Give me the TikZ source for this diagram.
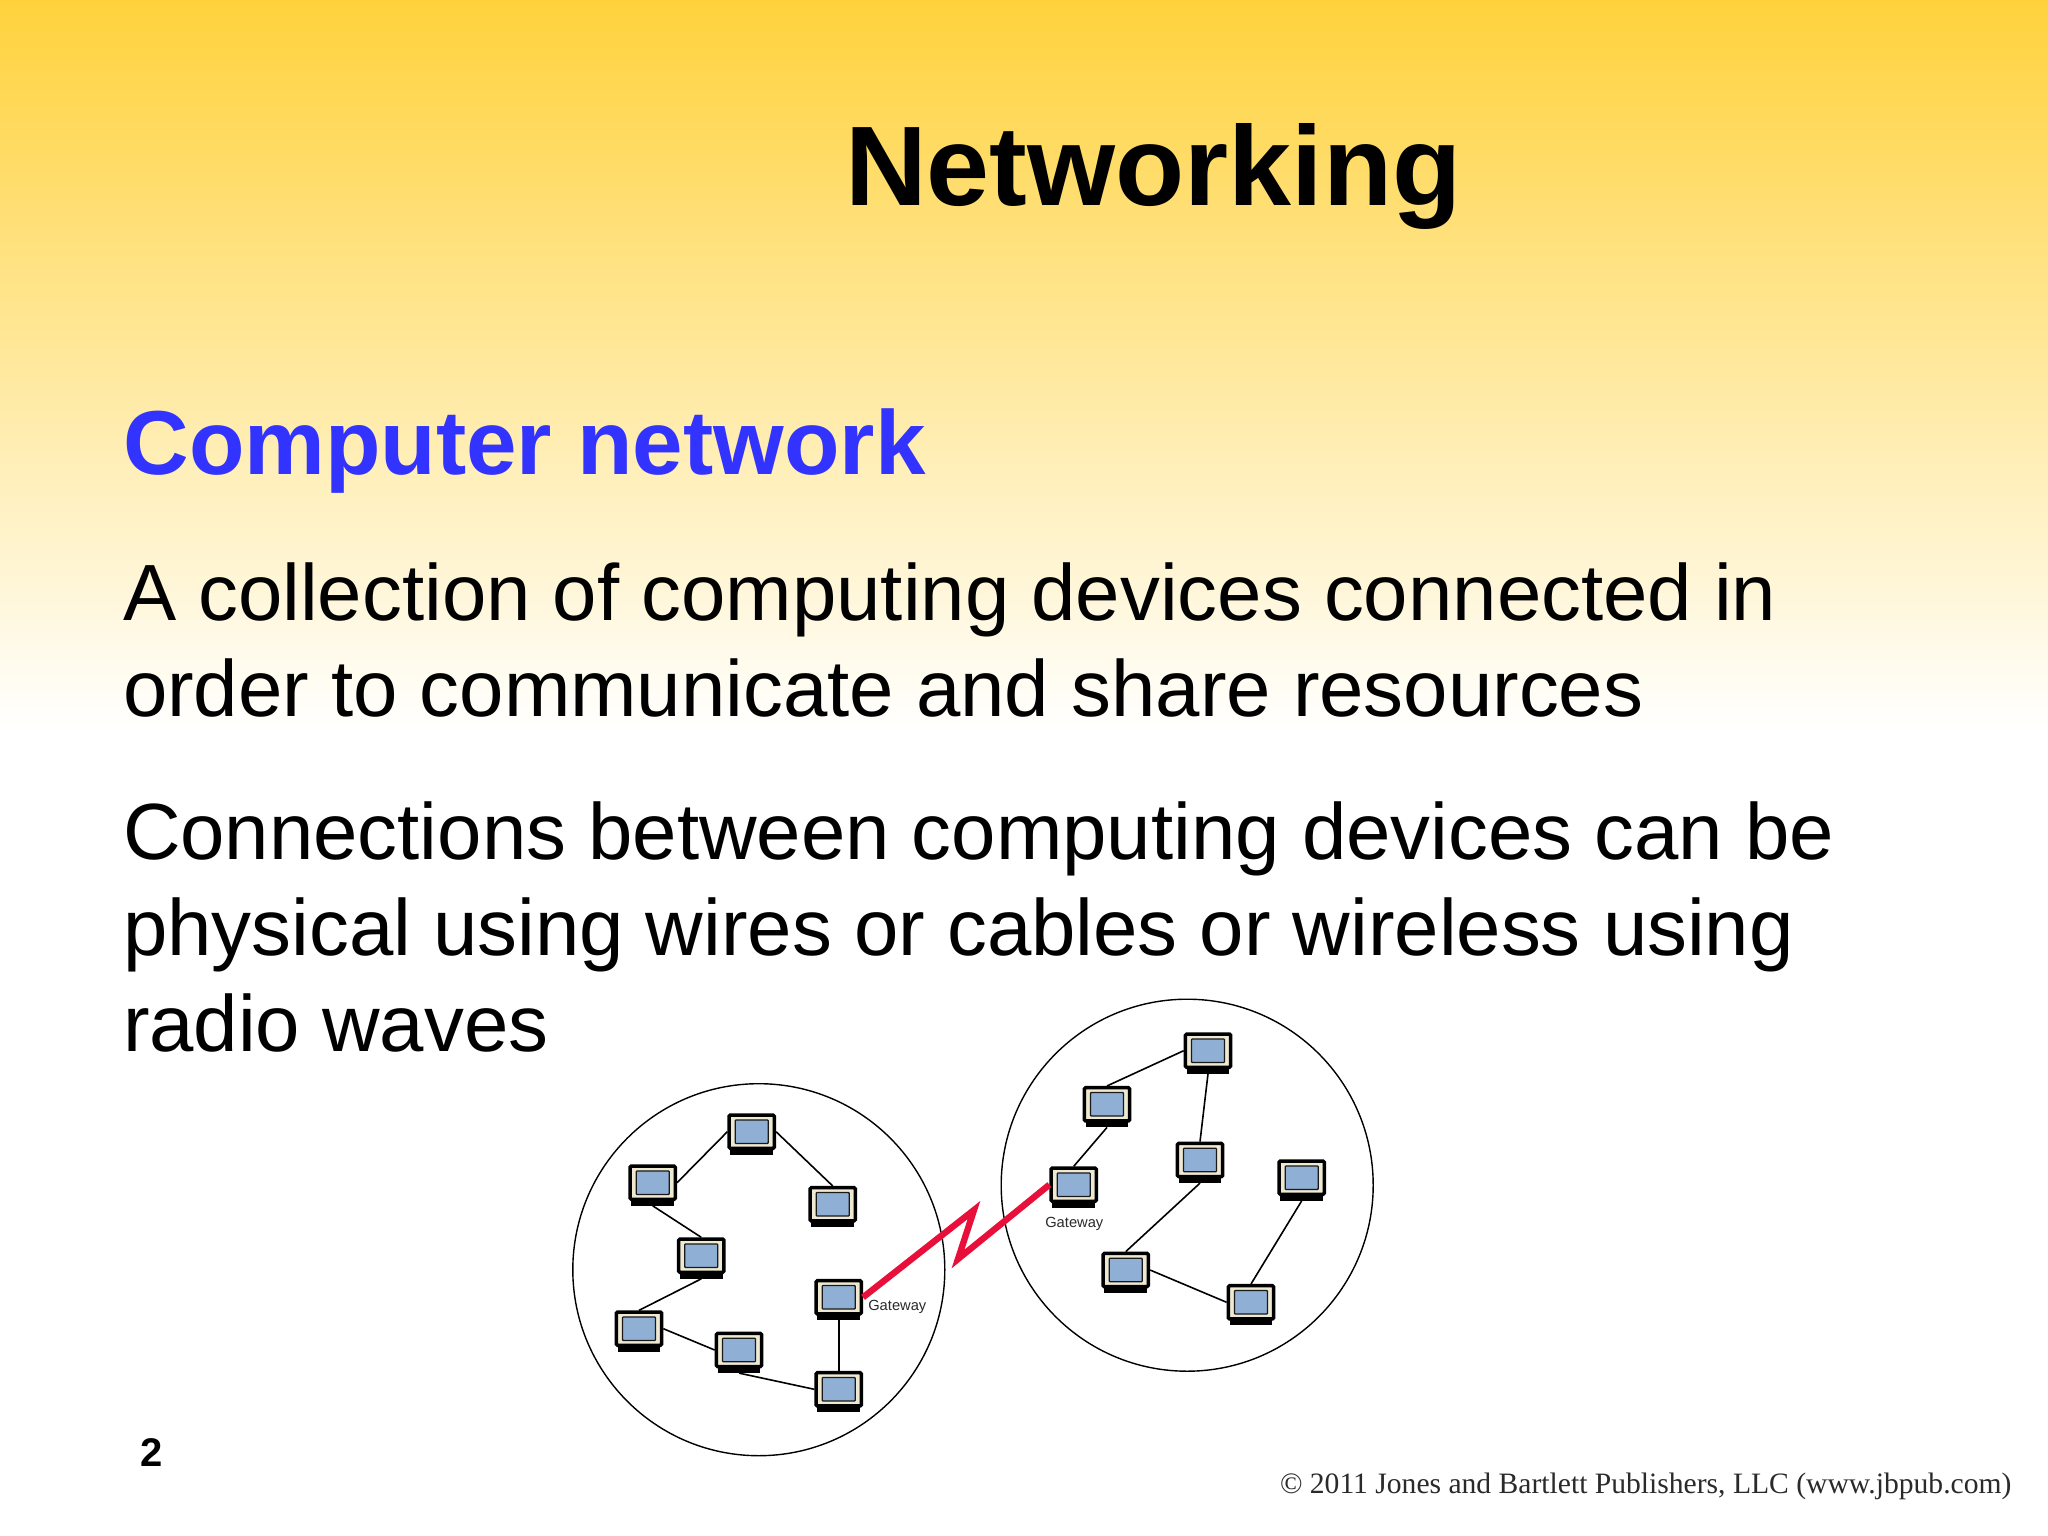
\documentclass[tikz,border=0pt]{standalone}
\usepackage{fontspec}
\setmainfont{Liberation Sans}
\newfontfamily\serifcr{Liberation Serif}
\definecolor{topyellow}{HTML}{FFD23C}
\definecolor{headblue}{HTML}{3333FF}
\definecolor{cream}{HTML}{EFE9D2}
\definecolor{screenblue}{HTML}{8FAFD4}
\definecolor{linkred}{HTML}{E8103A}
\definecolor{softtext}{HTML}{2A2A2A}
\tikzset{
  txt/.style={anchor=base west,inner sep=0pt,outer sep=0pt},
  titletxt/.style={txt,font=\fontsize{113.2}{113.2}\selectfont\bfseries},
  headtxt/.style={txt,font=\fontsize{90.8}{90.8}\selectfont\bfseries,text=headblue},
  bodytxt/.style={txt,font=\fontsize{79.75}{79.75}\selectfont},
  gatelabel/.style={inner sep=0pt,font=\fontsize{14.7}{14.7}\selectfont,text=softtext},
  monbody/.style={draw=black,line width=3.5pt,fill=cream,rounded corners=1.2pt,minimum width=45.2pt,minimum height=33.2pt,inner sep=0pt,outer sep=1.75pt},
  monscreen/.style={draw=black!90,line width=1.3pt,fill=screenblue,rounded corners=0.8pt,minimum width=33pt,minimum height=23.5pt,inner sep=0pt},
  monfoot/.style={fill=black,minimum width=42.5pt,minimum height=7pt,inner sep=0pt,outer sep=0pt},
  netcircle/.style={draw=black,line width=1.4pt},
  wire/.style={draw=black,line width=1.6pt},
  radio/.style={draw=linkred,line width=6.4pt,miter limit=10},
}
\newcommand{\monitor}[2]{%
  \node[monfoot] (#1f) at (#2) [yshift=-19.6pt] {};
  \node[monbody] (#1) at (#2) {};
  \node[monscreen] (#1s) at (#2) {};
}
\begin{document}
\begin{tikzpicture}[x=1pt,y=-1pt]
\useasboundingbox (0,0) rectangle (2048,1536);
\fill[white] (0,0) rectangle (2048,1536);
\shade[top color=topyellow,bottom color=white] (0,0) rectangle (2048,730);

\node[titletxt] (title) at (845,205) {Networking};
\node[headtxt] (head) at (123.5,474) {Computer network};
\node[bodytxt] (l1) at (123,620.5) {A collection of computing devices connected in};
\node[bodytxt] (l2) at (123,716) {order to communicate and share resources};
\node[bodytxt] (l3) at (123,859.5) {Connections between computing devices can be};
\node[bodytxt] (l4) at (123,955.5) {physical using wires or cables or wireless using};
\node[bodytxt] (l5) at (123,1051.5) {radio waves};
\node[txt,font=\fontsize{40}{40}\selectfont\bfseries] (page) at (140,1466) {2};
\node[txt,font=\fontsize{29.6}{29.6}\selectfont\serifcr,text=softtext] (copy) at (1280,1493) {© 2011 Jones and Bartlett Publishers, LLC (www.jbpub.com)};

\node[netcircle,circle,minimum size=372pt,inner sep=0pt] (netA) at (758.8,1269.7) {};
\node[netcircle,circle,minimum size=372pt,inner sep=0pt] (netB) at (1187.2,1185.2) {};

\monitor{a1}{751.7,1131.7}
\monitor{a2}{652.7,1182.7}
\monitor{a3}{832.7,1204.3}
\monitor{a4}{701.3,1255.7}
\monitor{a5}{838.7,1297.3}
\monitor{a6}{639,1328.7}
\monitor{a7}{739,1350}
\monitor{a8}{838.7,1389.3}
\monitor{b1}{1208,1050.7}
\monitor{b2}{1107,1104.3}
\monitor{b3}{1073.7,1184.7}
\monitor{b4}{1200,1160}
\monitor{b5}{1301.7,1177.7}
\monitor{b6}{1125.7,1270}
\monitor{b7}{1251,1302.3}

\draw[wire] (a1.west) -- (a2.east);
\draw[wire] (a1.east) -- (a3.north);
\draw[wire] (a2f.south) -- (a4.north);
\draw[wire] (a4f.south) -- (a6.north);
\draw[wire] (a6.east) -- (a7.west);
\draw[wire] (a7f.south) -- (a8.west);
\draw[wire] (a5f.south) -- (a8.north);
\draw[wire] (b1.west) -- (b2.north);
\draw[wire] (b1f.south) -- (b4.north);
\draw[wire] (b2f.south) -- (b3.north);
\draw[wire] (b4f.south) -- (b6.north);
\draw[wire] (b5f.south) -- (b7.north);
\draw[wire] (b6.east) -- (b7.west);

\coordinate (zigA) at (974,1210);
\coordinate (zigB) at (958,1259);
\draw[radio] (a5.east) -- (zigA) -- (zigB) -- (b3.west);

\node[gatelabel] (gwA) at (897.3,1306.5) {Gateway};
\node[gatelabel] (gwB) at (1074.3,1223.5) {Gateway};
\end{tikzpicture}
\end{document}
